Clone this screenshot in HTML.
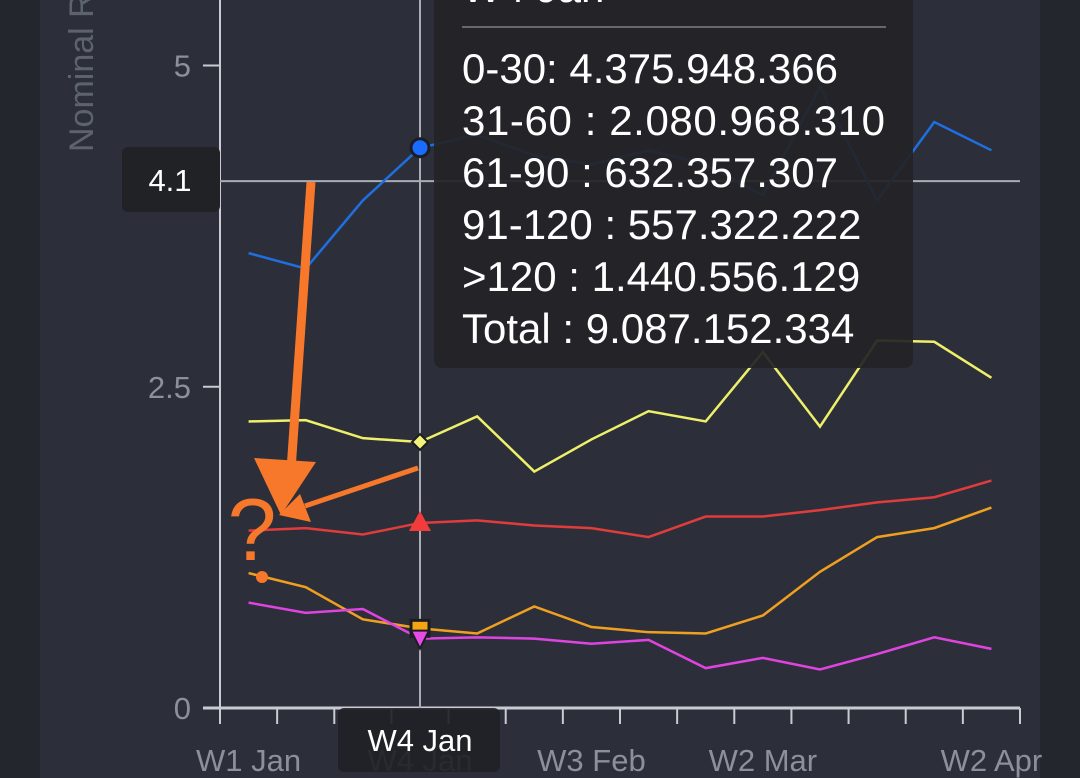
<!DOCTYPE html>
<html><head><meta charset="utf-8"><style>
html,body{margin:0;padding:0;width:1080px;height:778px;overflow:hidden;background:#24272e}
svg{display:block}
text{font-family:"Liberation Sans",sans-serif}
</style></head><body>
<svg id="chart" width="1080" height="778">
<rect x="0" y="0" width="1080" height="778" fill="#23262d"/>
<rect x="40" y="0" width="1000" height="778" fill="#2c2f3a"/>
<text x="93" y="152" transform="rotate(-90 93 152)" fill="#5d636e" font-size="34">Nominal R</text>
<g id="grid"></g>
<g id="series"></g>
<g id="overlay"></g>
</svg>
<script>
const categories=["W1 Jan","W2 Jan","W3 Jan","W4 Jan","W1 Feb","W2 Feb","W3 Feb","W4 Feb","W1 Mar","W2 Mar","W3 Mar","W4 Mar","W1 Apr","W2 Apr"];
const shownLabels=["W1 Jan","W4 Jan","W3 Feb","W2 Mar","W2 Apr"];
const yTicks=[0,2.5,5];
const yTickLabels=["0","2.5","5"];
const s0_30=[3.54,3.42,3.95,4.36,4.46,4.30,4.23,4.34,4.23,3.99,4.83,3.95,4.56,4.34];
const s31_60=[2.23,2.24,2.10,2.07,2.27,1.84,2.09,2.31,2.23,2.77,2.19,2.86,2.85,2.57];
const s61_90=[1.38,1.40,1.35,1.44,1.46,1.42,1.40,1.33,1.49,1.49,1.54,1.60,1.64,1.77];
const s91_120=[1.05,0.94,0.69,0.62,0.58,0.79,0.63,0.59,0.58,0.72,1.06,1.33,1.40,1.56];
const s120=[0.82,0.74,0.77,0.54,0.55,0.54,0.50,0.53,0.31,0.39,0.30,0.42,0.55,0.46];
const tooltipLines=["0-30: 4.375.948.366","31-60 : 2.080.968.310","61-90 : 632.357.307","91-120 : 557.322.222",">120 : 1.440.556.129","Total : 9.087.152.334"];
const crossIndex=3, crossValue=4.1;

const NS="http://www.w3.org/2000/svg";
const X0=220,X1=1020,Y0=708,PXU=128.5;
const step=(X1-X0)/categories.length;
function xs(i){return X0+step*(i+0.5);}
function ys(v){return Y0-v*PXU;}
function mk(tag,attrs,parent){const e=document.createElementNS(NS,tag);for(const k in attrs)e.setAttribute(k,attrs[k]);parent.appendChild(e);return e;}
const grid=document.getElementById('grid'),series=document.getElementById('series'),ov=document.getElementById('overlay');

let a=mk('line',{x1:X0,y1:0,x2:X0,y2:Y0,stroke:'#c8ccd2','stroke-width':2},grid);

a=mk('line',{x1:203,y1:Y0,x2:X1,y2:Y0,stroke:'#c8ccd2','stroke-width':3},grid);

yTicks.forEach((v,i)=>{
 let t=mk('line',{x1:203,y1:ys(v),x2:X0,y2:ys(v),stroke:'#c8ccd2','stroke-width':2},grid);
 
 let l=mk('text',{x:191,y:ys(v)+11,'text-anchor':'end',fill:'#8b909a','font-size':31},grid);
 l.textContent=yTickLabels[i];
 
});
for(let i=0;i<=categories.length;i++){
 let t=mk('line',{x1:X0+step*i,y1:Y0,x2:X0+step*i,y2:Y0+16,stroke:'#c8ccd2','stroke-width':2},grid);
 
}
categories.forEach((c,i)=>{
 if(shownLabels.indexOf(c)<0)return;
 let l=mk('text',{x:xs(i),y:771,'text-anchor':'middle',fill:'#8b909a','font-size':31},grid);
 l.textContent=c;
 
});
a=mk('line',{x1:xs(crossIndex),y1:0,x2:xs(crossIndex),y2:Y0,stroke:'#a9adb3','stroke-width':2},grid);

a=mk('line',{x1:X0,y1:ys(crossValue),x2:X1,y2:ys(crossValue),stroke:'#a9adb3','stroke-width':2},grid);


const defs=[[s0_30,'#1f6fe0','series-0-30'],[s31_60,'#eef06a','series-31-60'],[s61_90,'#e03c3c','series-61-90'],[s91_120,'#f0a020','series-91-120'],[s120,'#e044e0','series-over-120']];
defs.forEach(d=>{
 let p=mk('polyline',{points:d[0].map((v,i)=>xs(i)+','+ys(v)).join(' '),fill:'none',stroke:d[1],'stroke-width':2.5},series);
 
});
const cx=xs(crossIndex);
let m=mk('circle',{cx:cx,cy:ys(s0_30[crossIndex]),r:9,fill:'#1a6bff',stroke:'#1b1d22','stroke-width':3},series);

let y=ys(s31_60[crossIndex]);
m=mk('polygon',{points:`${cx},${y-8} ${cx+8},${y} ${cx},${y+8} ${cx-8},${y}`,fill:'#f2f27a',stroke:'#1b1d22','stroke-width':2},series);

y=ys(s61_90[crossIndex]);
m=mk('polygon',{points:`${cx},${y-12} ${cx+11},${y+8} ${cx-11},${y+8}`,fill:'#f23c3c'},series);

y=ys(s91_120[crossIndex]);
m=mk('rect',{x:cx-9,y:y-8,width:18,height:16,fill:'#f5a412',stroke:'#1b1d22','stroke-width':3},series);

y=ys(s120[crossIndex]);
m=mk('polygon',{points:`${cx-9},${y-8} ${cx+9},${y-8} ${cx},${y+10}`,fill:'#e84ae8',stroke:'#1b1d22','stroke-width':2},series);


let g=mk('g',{},ov);
mk('rect',{x:122,y:147,width:98,height:65,rx:6,fill:'#212226'},g);
let t=mk('text',{x:170,y:191,'text-anchor':'middle',fill:'#fff','font-size':31},g);t.textContent=crossValue.toFixed(1);
g=mk('g',{},ov);
mk('rect',{x:338,y:708,width:162,height:64,rx:6,fill:'#212226',opacity:0.92},g);
t=mk('text',{x:cx,y:751,'text-anchor':'middle',fill:'#fff','font-size':31},g);t.textContent=categories[crossIndex];
g=mk('g',{},ov);
mk('rect',{x:434,y:-20,width:479,height:388,rx:8,fill:'#232427',opacity:0.93},g);
t=mk('text',{x:462,y:2,fill:'#fff','font-size':42},g);t.textContent=categories[crossIndex];

mk('line',{x1:462,y1:27,x2:886,y2:27,stroke:'#66686d','stroke-width':2},g);
tooltipLines.forEach((s,i)=>{
 let l=mk('text',{x:462,y:83+i*52,fill:'#fff','font-size':42,textLength:(i==1?423:null)},g);
 if(i!=1)l.removeAttribute('textLength');
 l.textContent=s;
 
});
g=mk('g',{},ov);
mk('line',{x1:311,y1:182,x2:291,y2:470,stroke:'#f7782a','stroke-width':9},g);
mk('polygon',{points:'254,458 316,462 281,515',fill:'#f7782a'},g);
mk('line',{x1:418,y1:468,x2:305,y2:506,stroke:'#f7782a','stroke-width':5},g);
mk('polygon',{points:'300,494 311,522 279,515',fill:'#f7782a'},g);
t=mk('text',{x:252,y:560,'text-anchor':'middle',fill:'#f7782a','font-size':88},g);t.textContent='?';
mk('circle',{cx:262,cy:577,r:6,fill:'#f7782a'},g);
</script>
</body></html>
